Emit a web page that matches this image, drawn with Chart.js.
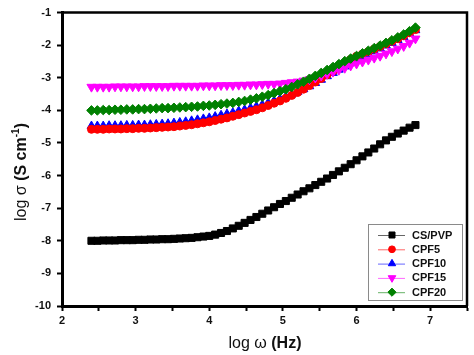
<!DOCTYPE html>
<html>
<head>
<meta charset="utf-8">
<script src="https://cdn.jsdelivr.net/npm/chart.js@4/dist/chart.umd.min.js"></script>
<style>
  html, body { margin: 0; padding: 0; background: #fff; }
  #wrap { width: 474px; height: 355px; }
</style>
</head>
<body>
<div id="wrap"><canvas id="c" width="474" height="355"></canvas></div>
<script>
// ---- data ----
const logOmega = [2.40, 2.48, 2.56, 2.64, 2.72, 2.80, 2.88, 2.96, 3.04, 3.12,
                  3.20, 3.28, 3.36, 3.44, 3.52, 3.60, 3.68, 3.76, 3.84, 3.92,
                  4.00, 4.08, 4.16, 4.24, 4.32, 4.40, 4.48, 4.56, 4.64, 4.72,
                  4.80, 4.88, 4.96, 5.04, 5.12, 5.20, 5.28, 5.36, 5.44, 5.52,
                  5.60, 5.68, 5.76, 5.84, 5.92, 6.00, 6.08, 6.16, 6.24, 6.32,
                  6.40, 6.48, 6.56, 6.64, 6.72, 6.80];

const csPvp = [-8.00, -8.00, -7.99, -7.99, -7.99, -7.98, -7.98, -7.98, -7.97, -7.97,
               -7.96, -7.96, -7.95, -7.95, -7.94, -7.93, -7.92, -7.91, -7.89, -7.87,
               -7.85, -7.81, -7.76, -7.70, -7.62, -7.54, -7.45, -7.36, -7.27, -7.17,
               -7.07, -6.97, -6.87, -6.78, -6.68, -6.58, -6.48, -6.39, -6.29, -6.19,
               -6.09, -5.98, -5.87, -5.76, -5.65, -5.53, -5.41, -5.29, -5.17, -5.04,
               -4.92, -4.81, -4.71, -4.62, -4.53, -4.45];

const cpf5 = [-4.58, -4.58, -4.58, -4.57, -4.57, -4.57, -4.56, -4.56, -4.55, -4.55,
              -4.54, -4.53, -4.52, -4.51, -4.50, -4.48, -4.46, -4.44, -4.41, -4.38,
              -4.35, -4.31, -4.27, -4.23, -4.18, -4.13, -4.08, -4.03, -3.98, -3.92,
              -3.85, -3.78, -3.71, -3.63, -3.54, -3.45, -3.35, -3.24, -3.13, -3.02,
              -2.91, -2.79, -2.67, -2.55, -2.44, -2.34, -2.27, -2.20, -2.12, -2.04,
              -1.96, -1.88, -1.80, -1.71, -1.62, -1.52];

const cpf10 = [-4.48, -4.48, -4.48, -4.47, -4.47, -4.47, -4.46, -4.46, -4.45, -4.45,
               -4.44, -4.43, -4.42, -4.41, -4.39, -4.37, -4.35, -4.32, -4.29, -4.26,
               -4.23, -4.19, -4.15, -4.11, -4.07, -4.02, -3.98, -3.93, -3.88, -3.83,
               -3.77, -3.71, -3.65, -3.58, -3.51, -3.43, -3.35, -3.26, -3.16, -3.06,
               -2.95, -2.85, -2.75, -2.65, -2.55, -2.46, -2.37, -2.28, -2.19, -2.10,
               -2.01, -1.93, -1.84, -1.75, -1.65, -1.54];

const cpf15 = [-3.28, -3.28, -3.28, -3.28, -3.27, -3.27, -3.27, -3.27, -3.27, -3.26,
               -3.26, -3.26, -3.26, -3.26, -3.25, -3.25, -3.25, -3.25, -3.25, -3.24,
               -3.24, -3.24, -3.23, -3.23, -3.23, -3.22, -3.22, -3.21, -3.21, -3.20,
               -3.19, -3.19, -3.18, -3.16, -3.14, -3.12, -3.09, -3.05, -3.00, -2.94,
               -2.88, -2.82, -2.76, -2.70, -2.63, -2.57, -2.51, -2.45, -2.39, -2.33,
               -2.26, -2.19, -2.11, -2.03, -1.93, -1.80];

const cpf20 = [-4.00, -4.00, -3.99, -3.99, -3.98, -3.98, -3.97, -3.97, -3.96, -3.96,
               -3.95, -3.94, -3.93, -3.93, -3.92, -3.91, -3.90, -3.89, -3.88, -3.86,
               -3.85, -3.83, -3.81, -3.79, -3.77, -3.74, -3.71, -3.67, -3.63, -3.58,
               -3.53, -3.47, -3.41, -3.35, -3.28, -3.20, -3.12, -3.03, -2.94, -2.85,
               -2.76, -2.67, -2.58, -2.49, -2.41, -2.33, -2.25, -2.17, -2.09, -2.01,
               -1.93, -1.85, -1.76, -1.67, -1.57, -1.46];

const seriesNames = ['CS/PVP', 'CPF5', 'CPF10', 'CPF15', 'CPF20'];
const xTickLabels = [2, 3, 4, 5, 6, 7];
const yTickLabels = [-10, -9, -8, -7, -6, -5, -4, -3, -2, -1];

// ---- styles ----
const FONT = "'Liberation Sans', Arial, Helvetica, sans-serif";
const styles = [
  { color: '#000000', pointStyle: 'rect',     radius: 5.0, rotation: 0,   order: 5 },
  { color: '#ff0000', pointStyle: 'circle',   radius: 4.0, rotation: 0,   order: 3 },
  { color: '#0000ff', pointStyle: 'triangle', radius: 5.0, rotation: 0,   order: 4 },
  { color: '#ff00ff', pointStyle: 'triangle', radius: 5.2, rotation: 180, order: 2 },
  { color: '#008000', pointStyle: 'rectRot',  radius: 4.8, rotation: 0,   order: 1 }
];
const seriesValues = [csPvp, cpf5, cpf10, cpf15, cpf20];

const datasets = seriesValues.map((vals, i) => ({
  label: seriesNames[i],
  data: logOmega.map((x, k) => ({ x: x, y: vals[k] })),
  borderColor: styles[i].color,
  backgroundColor: styles[i].color,
  borderWidth: 1,
  pointStyle: styles[i].pointStyle,
  pointRadius: styles[i].radius,
  pointRotation: styles[i].rotation,
  pointBorderWidth: 1,
  pointBorderColor: styles[i].color,
  pointBackgroundColor: styles[i].color,
  tension: 0,
  fill: false,
  order: styles[i].order
}));

// ---- marker drawing for the legend ----
function drawMarker(ctx, st, x, y) {
  ctx.save();
  ctx.fillStyle = st.color;
  ctx.strokeStyle = st.color;
  ctx.lineWidth = 1;
  ctx.beginPath();
  const r = st.radius;
  if (st.pointStyle === 'rect') {
    const s = Math.SQRT1_2 * r;
    ctx.rect(x - s, y - s, 2 * s, 2 * s);
  } else if (st.pointStyle === 'circle') {
    ctx.arc(x, y, r, 0, Math.PI * 2);
  } else if (st.pointStyle === 'triangle') {
    const down = st.rotation === 180 ? -1 : 1;
    const h = r * 0.5;
    const w = r * Math.sqrt(3) / 2;
    ctx.moveTo(x, y - down * r);
    ctx.lineTo(x + w, y + down * h);
    ctx.lineTo(x - w, y + down * h);
    ctx.closePath();
  } else if (st.pointStyle === 'rectRot') {
    ctx.moveTo(x - r, y);
    ctx.lineTo(x, y - r);
    ctx.lineTo(x + r, y);
    ctx.lineTo(x, y + r);
    ctx.closePath();
  }
  ctx.fill();
  ctx.stroke();
  ctx.restore();
}

// ---- plugin: frame, axis titles, legend ----
const decorPlugin = {
  id: 'decor',
  afterDatasetsDraw(chart) {
    const ctx = chart.ctx;
    const a = chart.chartArea;
    ctx.save();
    ctx.strokeStyle = '#000';
    ctx.lineWidth = 2.5;
    ctx.beginPath();
    ctx.moveTo(a.left, a.top);
    ctx.lineTo(a.right, a.top);
    ctx.lineTo(a.right, a.bottom);
    ctx.stroke();
    ctx.restore();
  },
  afterDraw(chart) {
    const ctx = chart.ctx;
    ctx.save();
    ctx.fillStyle = '#111';
    ctx.textBaseline = 'alphabetic';

    // x-axis title: "log ω (Hz)"
    const xPart1 = 'log \u03c9 ';
    const xPart2 = '(Hz)';
    ctx.font = '16px ' + FONT;
    const w1 = ctx.measureText(xPart1).width;
    ctx.font = 'bold 16px ' + FONT;
    const w2 = ctx.measureText(xPart2).width;
    let xs = 265 - (w1 + w2) / 2;
    const xb = 348;
    ctx.font = '16px ' + FONT;
    ctx.fillText(xPart1, xs, xb);
    ctx.font = 'bold 16px ' + FONT;
    ctx.fillText(xPart2, xs + w1, xb);

    // y-axis title: "log σ (S cm-1)" rotated
    ctx.save();
    ctx.translate(26, 172);
    ctx.rotate(-Math.PI / 2);
    const yPart1 = 'log \u03c3 ';
    const yPart2 = '(S cm';
    const yPart3 = '-1';
    const yPart4 = ')';
    ctx.font = '16px ' + FONT;
    const a1 = ctx.measureText(yPart1).width;
    ctx.font = 'bold 16px ' + FONT;
    const a2 = ctx.measureText(yPart2).width;
    const a4 = ctx.measureText(yPart4).width;
    ctx.font = 'bold 10px ' + FONT;
    const a3 = ctx.measureText(yPart3).width;
    let ys = -(a1 + a2 + a3 + a4) / 2;
    ctx.font = '16px ' + FONT;
    ctx.fillText(yPart1, ys, 0);
    ys += a1;
    ctx.font = 'bold 16px ' + FONT;
    ctx.fillText(yPart2, ys, 0);
    ys += a2;
    ctx.font = 'bold 10px ' + FONT;
    ctx.fillText(yPart3, ys, -7);
    ys += a3;
    ctx.font = 'bold 16px ' + FONT;
    ctx.fillText(yPart4, ys, 0);
    ctx.restore();

    // legend box
    const bx = 368, by = 224, bw = 94, bh = 76;
    ctx.fillStyle = '#fff';
    ctx.fillRect(bx, by, bw, bh);
    ctx.strokeStyle = '#8a8a8a';
    ctx.lineWidth = 1;
    ctx.strokeRect(bx + 0.5, by + 0.5, bw, bh);
    const rowY0 = 235, rowStep = 14.3;
    ctx.textBaseline = 'middle';
    ctx.font = 'bold 11px ' + FONT;
    for (let i = 0; i < seriesNames.length; i++) {
      const y = rowY0 + i * rowStep;
      ctx.strokeStyle = styles[i].color;
      ctx.globalAlpha = 0.6;
      ctx.lineWidth = 1;
      ctx.beginPath();
      ctx.moveTo(378, y + 0.5);
      ctx.lineTo(405, y + 0.5);
      ctx.stroke();
      ctx.globalAlpha = 1;
      drawMarker(ctx, Object.assign({}, styles[i], { radius: styles[i].radius * 0.85 }), 392, y);
      ctx.fillStyle = '#111';
      ctx.fillText(seriesNames[i], 412, y + 0.5);
    }
    ctx.restore();
  }
};

new Chart(document.getElementById('c'), {
  type: 'line',
  data: { datasets: datasets },
  options: {
    responsive: false,
    devicePixelRatio: 1,
    animation: false,
    events: [],
    layout: { padding: { top: 7, right: 7, left: 0, bottom: 0 } },
    plugins: {
      legend: { display: false },
      title: { display: false },
      tooltip: { enabled: false }
    },
    scales: {
      x: {
        type: 'linear',
        min: 2,
        max: 7.5,
        afterFit(s) { s.height = 49; },
        border: { display: true, color: '#000', width: 3 },
        grid: { drawOnChartArea: false, drawTicks: true, tickLength: 5, tickWidth: 2, tickColor: '#000' },
        ticks: {
          stepSize: 0.5,
          autoSkip: false,
          maxRotation: 0,
          padding: 3,
          color: '#111',
          font: { family: FONT, size: 11, weight: 'bold' },
          callback: (v) => (xTickLabels.includes(v) ? String(v) : '')
        }
      },
      y: {
        type: 'linear',
        min: -10,
        max: -1,
        afterFit(s) { s.width = 62; },
        border: { display: true, color: '#000', width: 3 },
        grid: { drawOnChartArea: false, drawTicks: true, tickLength: 5, tickWidth: 2, tickColor: '#000' },
        ticks: {
          stepSize: 1,
          autoSkip: false,
          padding: 6,
          color: '#111',
          font: { family: FONT, size: 11, weight: 'bold' },
          callback: (v) => (yTickLabels.includes(v) ? String(v) : '')
        }
      }
    }
  },
  plugins: [decorPlugin]
});
</script>
</body>
</html>
